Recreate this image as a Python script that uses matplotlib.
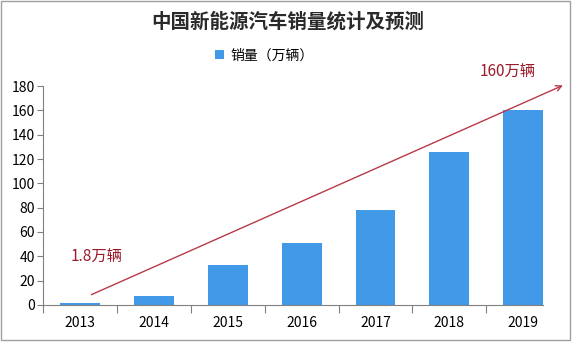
import matplotlib.pyplot as plt
from matplotlib.patches import Rectangle

plt.rcParams['font.family'] = ['Noto Sans CJK SC', 'DejaVu Sans']

# 中国新能源汽车销量（万辆）
years = ['2013', '2014', '2015', '2016', '2017', '2018', '2019']
sales = [1.8, 7.5, 33.1, 50.7, 77.7, 125.6, 160]

fig = plt.figure(figsize=(5.75, 3.43), dpi=100)
ax = fig.add_axes([0.0748, 0.111, 0.870, 0.638])

x = list(range(len(years)))
ax.bar(x, sales, width=0.54, color='#4299e8', label='销量（万辆）', zorder=2)

ax.set_xlim(-0.5, 6.27)
ax.set_ylim(0, 180)
ax.set_yticks(range(0, 181, 20))

# 类别刻度放在分隔处，文字居中
ax.set_xticks([i - 0.5 for i in range(len(years))])
ax.set_xticklabels([])
ax.set_xticks(x, minor=True)
ax.set_xticklabels(years, minor=True)
ax.tick_params(axis='x', which='major', length=6, color='#808080', direction='out')
ax.tick_params(axis='x', which='minor', length=0, pad=8, labelsize=10)
ax.tick_params(axis='y', length=4, color='#808080', labelsize=10, pad=2)

for s in ['top', 'right']:
    ax.spines[s].set_visible(False)
for s in ['left', 'bottom']:
    ax.spines[s].set_color('#808080')

# 趋势箭头及标注
ax.annotate('', xy=(6.57, 181.5), xytext=(0.12, 7.5),
            arrowprops=dict(arrowstyle='->', color='#b83a4a', lw=1.0),
            annotation_clip=False)
ax.text(0.22, 39, '1.8万辆', color='#9b1b2a', fontsize=11, ha='center', va='center')
ax.text(5.79, 191, '160万辆', color='#9b1b2a', fontsize=11, ha='center', va='center',
        clip_on=False)

fig.text(0.5, 0.936, '中国新能源汽车销量统计及预测', ha='center', va='center',
         fontsize=14, fontweight='bold', color='#2a2a2a')
ax.legend(loc='center', bbox_to_anchor=(0.46, 0.838), bbox_transform=fig.transFigure,
          frameon=False, fontsize=10, handlelength=0.6, handleheight=0.6,
          handletextpad=0.5)

# 外框
fig.patches.append(Rectangle((0.002, 0.01), 0.990, 0.987, transform=fig.transFigure,
                             fill=False, edgecolor='#a0a0a0', lw=1.0))

fig.savefig('out.png', dpi=100)
